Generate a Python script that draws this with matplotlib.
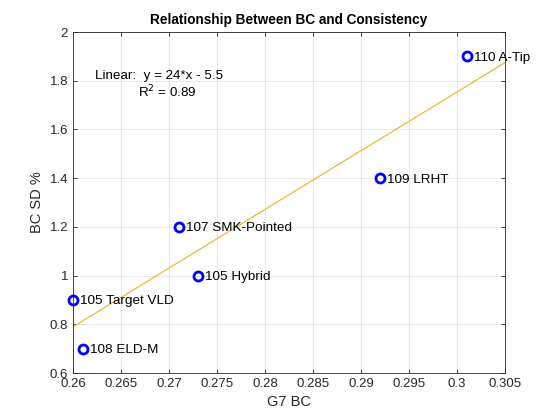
import numpy as np
import matplotlib
matplotlib.use("Agg")
import matplotlib.pyplot as plt

# 讀圖估計的資料
bc = [0.260, 0.261, 0.271, 0.273, 0.292, 0.301]
sd = [0.90, 0.70, 1.20, 1.00, 1.40, 1.90]
names = ["105 Target VLD", "108 ELD-M", "107 SMK-Pointed",
         "105 Hybrid", "109 LRHT", "110 A-Tip"]

plt.rcParams['font.family'] = ['Liberation Sans', 'DejaVu Sans']

fig = plt.figure(figsize=(5.6, 4.2), dpi=100)
ax = fig.add_axes([0.1304, 0.1119, 0.7714, 0.8119])

# 線性擬合
k, b = np.polyfit(bc, sd, 1)
xl = np.array([0.26, 0.305])
ax.plot(xl, k * xl + b, color='#EDB120', linewidth=0.8, zorder=2)

ax.plot(bc, sd, 'o', markerfacecolor='none', markeredgecolor='#0000FF',
        markeredgewidth=2, markersize=6.5, zorder=3, clip_on=False)
for x, y, n in zip(bc, sd, names):
    ax.annotate(n, (x, y), xytext=(5, -1), textcoords='offset points',
                va='center', ha='left', fontsize=9.7, color='#000000')

ax.text(0.2623, 1.82, "Linear:  y = 24*x - 5.5", fontsize=9.6, va='center')
ax.text(0.2698, 1.755, "R$^2$ = 0.89", fontsize=9.6, va='center', ha='center')

ax.set_xlim(0.26, 0.305)
ax.set_ylim(0.6, 2.0)
ax.set_xticks(np.arange(0.26, 0.3051, 0.005))
ax.set_xticklabels(["0.26", "0.265", "0.27", "0.275", "0.28", "0.285",
                    "0.29", "0.295", "0.3", "0.305"])
ax.set_yticks(np.arange(0.6, 2.01, 0.2))
ax.set_yticklabels(["0.6", "0.8", "1", "1.2", "1.4", "1.6", "1.8", "2"])

ax.grid(True, color='#262626', alpha=0.15, linewidth=0.5)
ax.set_axisbelow(True)
for s in ax.spines.values():
    s.set_color('#262626')
    s.set_linewidth(0.6)
ax.tick_params(direction='in', length=3, width=0.6, colors='#262626',
               labelsize=9.5, top=True, right=True, labelcolor='#262626')

ax.set_xlabel("G7 BC", fontsize=10.5, color='#262626')
ax.set_ylabel("BC SD %", fontsize=10.5, color='#262626')
ax.set_title("Relationship Between BC and Consistency", fontsize=9.8,
             fontweight='bold', color='#000000')

fig.savefig("out.png", dpi=100)
